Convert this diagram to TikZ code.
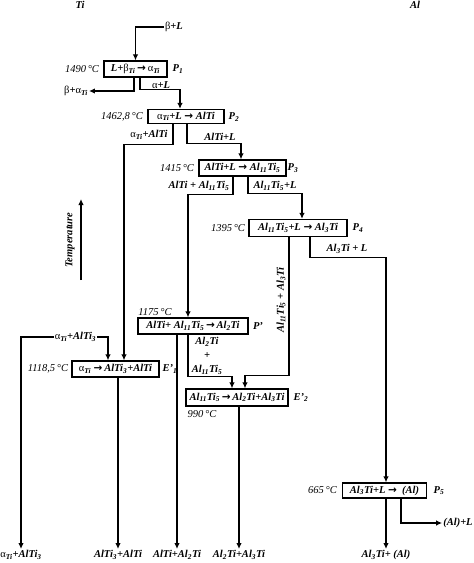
\documentclass[tikz,border=0pt]{standalone}
\usepackage{fontspec}
\setmainfont{Liberation Serif}
\newfontfamily\arrfont{DejaVu Sans}
\usetikzlibrary{arrows.meta}
\newcommand\chs[1]{\textsubscript{#1}}
\newcommand\rarr{{\arrfont\bfseries\upshape →}}
\newcommand\gr[1]{{\mdseries\upshape #1}}
\newcommand\ati{\gr{α}\chs{Ti}}
\begin{document}
\begin{tikzpicture}[x=1pt,y=-1pt,
  font=\fontsize{10.5}{12}\selectfont\bfseries\itshape,
  box/.style={draw, line width=1.25pt, inner xsep=2pt, inner ysep=1pt, minimum height=16pt},
  arr/.style={-{Latex[length=6pt,width=5.5pt]}, line width=1.25pt},
  lbl/.style={inner sep=1pt},
  tmp/.style={inner sep=1pt, font=\fontsize{10.5}{12}\selectfont\mdseries\itshape},
  outl/.style={inner sep=1pt, anchor=north}]
\useasboundingbox (0,0) rectangle (474,563);

% headers
\node[lbl] (ti) at (80,5) {Ti};
\node[lbl] (al) at (415,5) {Al};

% temperature axis
\coordinate (tb) at (81,280);
\coordinate (tt) at (81,199);
\draw[arr] (tb) -- (tt);
\node[lbl, rotate=90] (temp) at (70,240) {Temperature};

% boxes
\node[box, minimum width=63pt] (P1) at (135.5,69) {L+\gr{β}\chs{Ti}\,\rarr\,\gr{α}\chs{Ti}};
\node[box, minimum width=76pt, minimum height=14pt] (P2) at (186,116.5) {\ati+L \rarr\ AlTi};
\node[box, minimum width=87pt] (P3) at (242.5,168) {AlTi+L \rarr\ Al\chs{11}Ti\chs{5}};
\node[box, minimum width=98pt, minimum height=17pt] (P4) at (298,228) {Al\chs{11}Ti\chs{5}+L \rarr\ Al\chs{3}Ti};
\node[box, minimum width=110pt] (Pp) at (193,326) {AlTi+ Al\chs{11}Ti\chs{5}\,\rarr\,Al\chs{2}Ti};
\node[box, minimum width=87pt] (E1) at (115.5,369) {\ati\ \rarr\,AlTi\chs{3}+AlTi};
\node[box, minimum width=102pt, minimum height=17pt] (E2) at (237,397.5) {Al\chs{11}Ti\chs{5}\,\rarr\,Al\chs{2}Ti+Al\chs{3}Ti};
\node[box, minimum width=84pt, minimum height=15pt] (P5) at (384.5,490.5) {Al\chs{3}Ti+L \rarr\ \ (Al)};

% temperatures
\node[tmp] (t1) at (82,69) {1490\,°C};
\node[tmp] (t2) at (122,117) {1462,8\,°C};
\node[tmp] (t3) at (177,168) {1415\,°C};
\node[tmp] (t4) at (228,228) {1395\,°C};
\node[tmp] (t5) at (155,312) {1175\,°C};
\node[tmp] (t6) at (48,369) {1118,5\,°C};
\node[tmp] (t7) at (202,414) {990\,°C};
\node[tmp] (t8) at (322.5,490.5) {665\,°C};

% point labels
\node[lbl] (p1) at (178,69) {P\chs{1}};
\node[lbl] (p2) at (234,117) {P\chs{2}};
\node[lbl] (p3) at (293,168) {P\chs{3}};
\node[lbl] (p4) at (358,228) {P\chs{4}};
\node[lbl] (pp) at (258,326) {P'};
\node[lbl] (e1) at (170,369) {E'\chs{1}};
\node[lbl] (e2) at (301,397.5) {E'\chs{2}};
\node[lbl] (p5) at (439,490.5) {P\chs{5}};

% flow labels
\node[lbl] (bL) at (174,27) {\gr{β}+L};
\node[lbl] (ba) at (76,91) {\gr{β}+\ati};
\node[lbl] (aL) at (161,85) {\gr{α}+L};
\node[lbl] (aA) at (149,135) {\ati+AlTi};
\node[lbl] (AL) at (220,137) {AlTi+L};
\node[lbl] (AA) at (199,186) {AlTi + Al\chs{11}Ti\chs{5}};
\node[lbl] (A5L) at (275,186) {Al\chs{11}Ti\chs{5}+L};
\node[lbl, rotate=90] (A5A3) at (281,300) {Al\chs{11}Ti\chs{5} + Al\chs{3}Ti};
\node[lbl] (A3L) at (347,249) {Al\chs{3}Ti + L};
\node[lbl, align=center, font=\fontsize{10.5}{14}\selectfont\bfseries\itshape] (A2A5) at (207,356) {Al\chs{2}Ti\\+\\Al\chs{11}Ti\chs{5}};
\node[lbl] (aA3) at (75.5,337) {\ati+AlTi\chs{3}};
\node[lbl] (AlL) at (458,523) {(Al)+L};

% outputs
\node[outl] (o1) at (21,549) {\ati+AlTi\chs{3}};
\node[outl] (o2) at (118,549) {AlTi\chs{3}+AlTi};
\node[outl] (o3) at (177,549) {AlTi+Al\chs{2}Ti};
\node[outl] (o4) at (239,549) {Al\chs{2}Ti+Al\chs{3}Ti};
\node[outl] (o5) at (386,549) {Al\chs{3}Ti+ (Al)};

% connectors
\draw[arr] (bL.west) -| (P1.north);
\draw[arr] ([xshift=-1.5pt]P1.south) |- (ba.east);
\draw[arr] ([xshift=4.5pt]P1.south) -- ++(0,12) -| ([xshift=-6pt]P2.north);
\draw[arr] ([xshift=-13pt]P2.south) -- ++(0,20) -| ([xshift=8.5pt]E1.north);
\draw[arr] ([xshift=1pt]P2.south) -- ++(0,19) -| ([xshift=-1.5pt]P3.north);
\draw[arr] ([xshift=-9.5pt]P3.south) -- ++(0,18) -| ([xshift=-5pt]Pp.north);
\draw[arr] ([xshift=5.5pt]P3.south) -- ++(0,17) -| ([xshift=4pt]P4.north);
\draw[arr] ([xshift=-9pt]P4.south) -- ++(0,138) -| ([xshift=8pt]E2.north);
\draw[arr] ([xshift=12pt]P4.south) -- ++(0,20) -| ([xshift=1.5pt]P5.north);
\draw[arr] ([xshift=-16pt]Pp.south) -- (o3.north);
\draw[arr] ([xshift=-5pt]Pp.south) -- ++(0,42) -| ([xshift=-5pt]E2.north);
\draw[arr] (aA3.east) -| ([xshift=-7.5pt]E1.north);
\draw[arr] (aA3.west) -| (o1.north);
\draw[arr] ([xshift=2.5pt]E1.south) -- (o2.north);
\draw[arr] ([xshift=2pt]E2.south) -- (o4.north);
\draw[arr] ([xshift=1.5pt]P5.south) -- (o5.north);
\draw[arr] ([xshift=16.5pt]P5.south) |- (AlL.west);
\end{tikzpicture}
\end{document}
